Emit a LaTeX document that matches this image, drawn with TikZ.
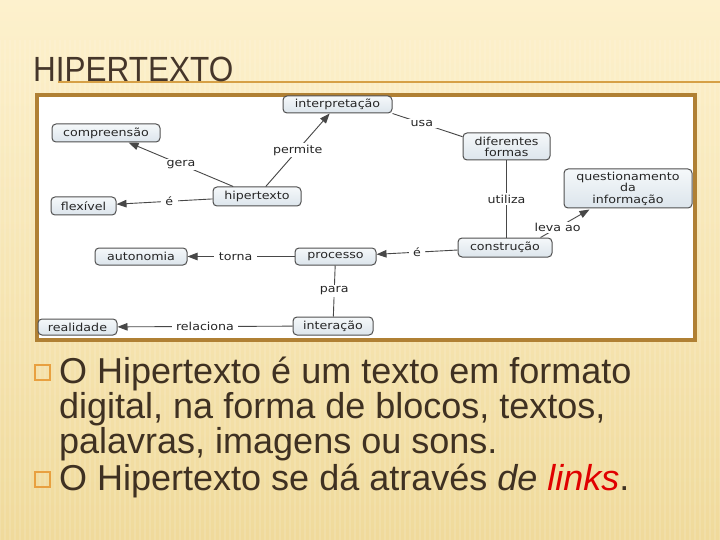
\documentclass[tikz,border=0pt]{standalone}
\usepackage{fontspec}
\setmainfont{Liberation Sans}
\newfontfamily\mapfont{DejaVu Sans}[FakeStretch=1.15]
\newfontfamily\titlefont{Liberation Sans}[FakeStretch=0.9]
\newfontfamily\bodyfont{Liberation Sans}
\usetikzlibrary{arrows.meta,calc}
\definecolor{bgtop}{HTML}{FDF1CD}
\definecolor{bgbot}{HTML}{F0DA9B}
\definecolor{txt}{HTML}{3F3122}
\definecolor{titlecol}{HTML}{45362A}
\definecolor{ulcol}{HTML}{D6A046}
\definecolor{framecol}{HTML}{B08034}
\definecolor{bulletcol}{HTML}{E8A040}
\definecolor{nodetop}{HTML}{F5F8FA}
\definecolor{nodebot}{HTML}{DCE5EC}
\definecolor{nodeline}{HTML}{505050}
\definecolor{linkcol}{HTML}{474747}
\definecolor{linkred}{HTML}{E00000}
\begin{document}
\begin{tikzpicture}[x=1pt,y=-1pt,
  concept/.style={draw=nodeline, line width=1pt, rounded corners=4pt,
    top color=nodetop, bottom color=nodebot, inner sep=0pt, align=center,
    font=\mapfont\fontsize{11}{11.5}\selectfont, text=black!85},
  linklab/.style={fill=white, inner xsep=4.5pt, inner ysep=1.5pt,
    font=\mapfont\fontsize{11}{11.5}\selectfont, text=black!85},
  conn/.style={draw=linkcol, line width=0.9pt},
  arr/.style={conn, -{Triangle[length=10pt,width=7.5pt]}},
  bodytext/.style={anchor=base west, inner sep=0pt, text=txt,
    font=\bodyfont\fontsize{36}{36}\selectfont},
  bulletbox/.style={draw=bulletcol, line width=1.1pt}
]
\useasboundingbox (0,0) rectangle (720,540);
% background
\shade[top color=bgtop, bottom color=bgbot] (0,0) rectangle (720,540);
\foreach \xx in {0,5,...,720} {
  \draw[white, opacity=0.12, line width=1.2pt] (\xx,40) -- (\xx,540);
}
% title and underline
\draw[ulcol, line width=2pt] (58,82.5) -- (720,82.5);
\node[anchor=base west, inner sep=0pt, text=titlecol,
  font=\titlefont\fontsize{35}{35}\selectfont] (title) at (33,81.5) {HIPERTEXTO};
% diagram frame
\draw[framecol, line width=4pt, fill=white] (37,95) rectangle (695,340);
% concepts
\node[concept, minimum width=109, minimum height=17] (interp) at (337.5,104.5) {interpretação};
\node[concept, minimum width=108, minimum height=18] (compr) at (106,133) {compreensão};
\node[concept, minimum width=87, minimum height=27, font=\mapfont\fontsize{11}{11}\selectfont] (difer) at (506.5,146.5) {diferentes\\formas};
\node[concept, minimum width=128, minimum height=39] (quest) at (628,188.5) {questionamento\\da\\informação};
\node[concept, minimum width=65, minimum height=18] (flex) at (83.5,206) {flexível};
\node[concept, minimum width=88, minimum height=19] (hiper) at (257,196.5) {hipertexto};
\node[concept, minimum width=92, minimum height=17] (auton) at (141,256.5) {autonomia};
\node[concept, minimum width=81, minimum height=17] (proc) at (335.5,256.5) {processo};
\node[concept, minimum width=94, minimum height=19] (constr) at (505,247.5) {construção};
\node[concept, minimum width=79, minimum height=16] (real) at (77.5,327) {realidade};
\node[concept, minimum width=80, minimum height=18] (inter) at (333,326) {interação};
% connectors
\draw[arr] (hiper) -- node[linklab] {gera} (compr);
\draw[arr] (hiper) -- node[linklab] {permite} (interp);
\draw[arr] (hiper) -- node[linklab, pos=0.45] {é} (flex);
\draw[conn] (interp.south east) -- node[linklab, pos=0.42] {usa}
  ($(difer.north west)!0.15!(difer.south west)$);
\draw[conn] (difer.south) -- node[linklab, inner xsep=1.5pt] {utiliza} (constr.north -| difer.south);
\draw[arr] ($(constr.north east)+(-12,0)$) -- node[linklab, inner xsep=1.5pt, pos=0.35] {leva ao}
  ($(quest.south west)+(26,1)$);
\draw[arr] (constr) -- node[linklab] {é} (proc);
\draw[arr] (proc) -- node[linklab, pos=0.55] {torna} (auton);
\draw[conn] (proc) -- node[linklab, inner xsep=1.5pt] {para} (inter);
\draw[arr] (inter) -- node[linklab] {relaciona} (real);
% bullet text
\draw[bulletbox] (35,365) rectangle (50,380);
\node[bodytext] (l1) at (59,383) {O Hipertexto é um texto em formato};
\node[bodytext] (l2) at (59,418) {digital, na forma de blocos, textos,};
\node[bodytext] (l3) at (59,453) {palavras, imagens ou sons.};
\draw[bulletbox] (35,472) rectangle (50,487);
\node[bodytext] (l4) at (59,490) {O Hipertexto se dá através \textit{de} \textcolor{linkred}{\textit{links}}.};
\end{tikzpicture}
\end{document}
